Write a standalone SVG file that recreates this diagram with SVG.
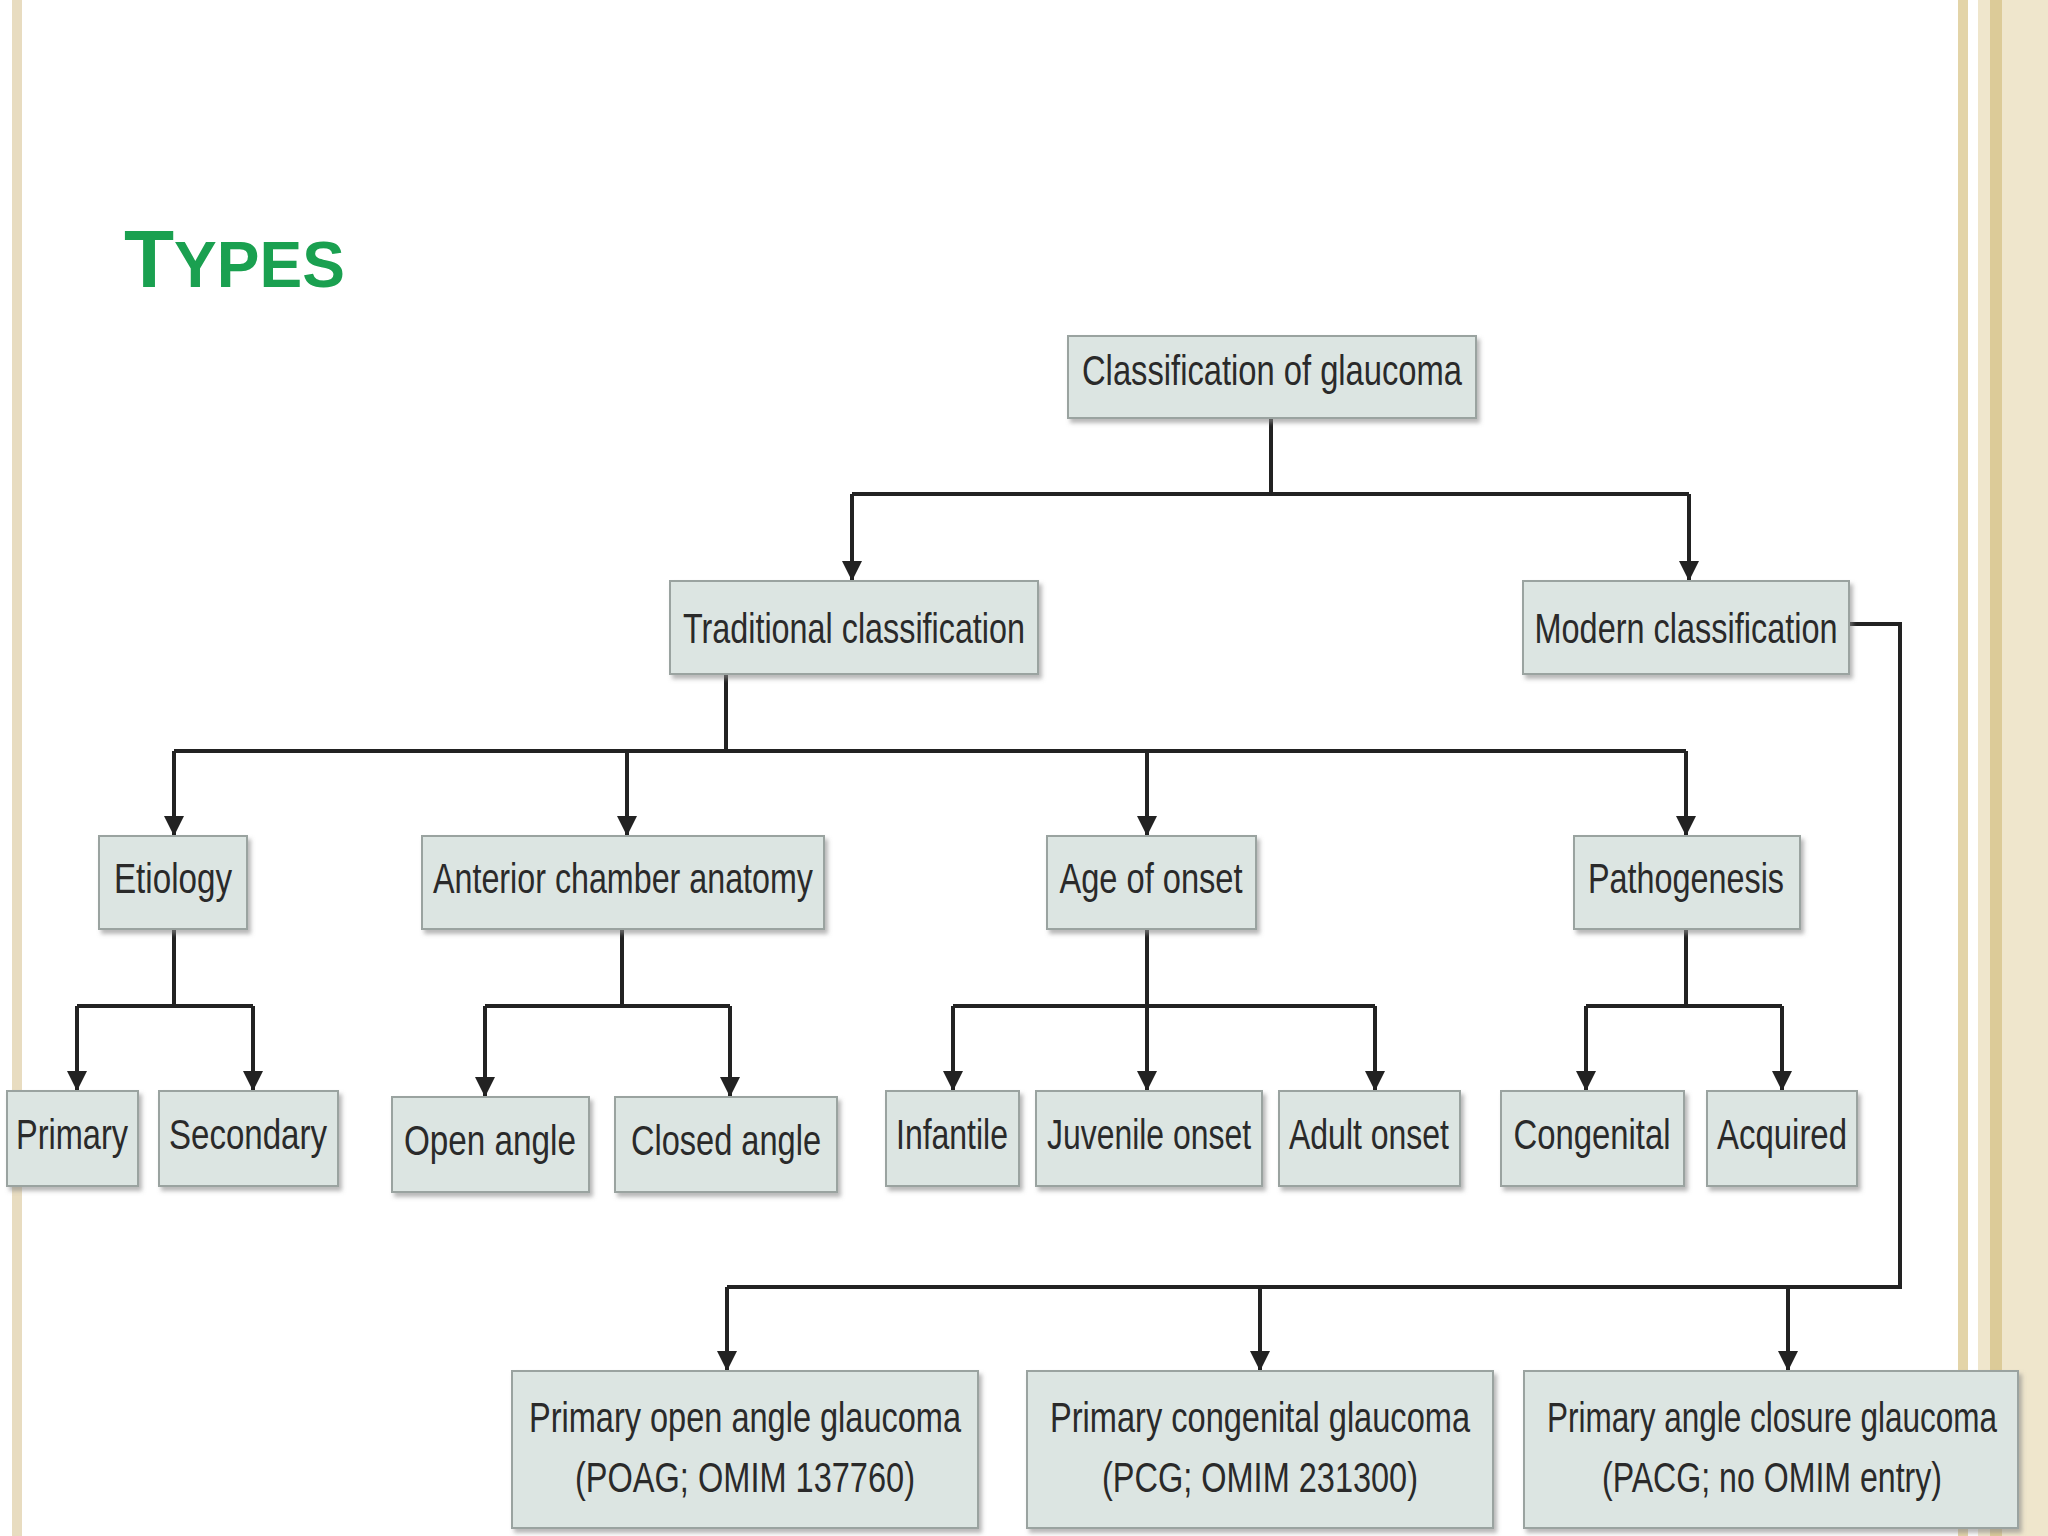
<svg xmlns="http://www.w3.org/2000/svg" width="2048" height="1536" viewBox="0 0 2048 1536">
<defs>
<marker id="ah" viewBox="0 0 10 10" refX="10" refY="5" markerWidth="5" markerHeight="6" orient="auto"><path d="M0,0 L10,5 L0,10 z" fill="#222"/></marker>
<filter id="sh" x="-5%" y="-5%" width="115%" height="130%"><feDropShadow dx="3" dy="4" stdDeviation="2" flood-color="#888" flood-opacity="0.6"/></filter>
</defs>
<style>
.b{fill:#dce5e2;stroke:#9aa3a0;stroke-width:2;filter:url(#sh)}
.t{font-family:"Liberation Sans",Arial,sans-serif;font-size:42px;fill:#2a2a2a;text-anchor:middle}
.c{fill:none;stroke:#222;stroke-width:4}
</style>
<rect width="2048" height="1536" fill="#fff"/>
<rect x="12" y="0" width="10" height="1536" fill="#e8dcc0"/>
<rect x="1958" y="0" width="10" height="1536" fill="#e3d4a8"/>
<rect x="1978" y="0" width="70" height="1536" fill="#efe6cc"/>
<rect x="1990" y="0" width="12" height="1536" fill="#dccb98"/>
<text x="124" y="287" font-family="Liberation Sans,Arial,sans-serif" font-weight="bold" fill="#1aa050"><tspan font-size="82">T</tspan><tspan font-size="64">YPES</tspan></text>
<g id="connectors">
<path class="c" d="M1271,418 V494 M852,494 H1689"/>
<path class="c" d="M852,494 V581" marker-end="url(#ah)"/><path class="c" d="M1689,494 V581" marker-end="url(#ah)"/>
<path class="c" d="M726,674 V751 M174,751 H1686"/>
<path class="c" d="M174,751 V836" marker-end="url(#ah)"/><path class="c" d="M627,751 V836" marker-end="url(#ah)"/><path class="c" d="M1147,751 V836" marker-end="url(#ah)"/><path class="c" d="M1686,751 V836" marker-end="url(#ah)"/>
<path class="c" d="M1849,624 H1900 V1287 H727"/>
<path class="c" d="M727,1287 V1371" marker-end="url(#ah)"/><path class="c" d="M1260,1287 V1371" marker-end="url(#ah)"/><path class="c" d="M1788,1287 V1371" marker-end="url(#ah)"/>
<path class="c" d="M174,929 V1006 M77,1006 H253"/>
<path class="c" d="M77,1006 V1091" marker-end="url(#ah)"/><path class="c" d="M253,1006 V1091" marker-end="url(#ah)"/>
<path class="c" d="M622,929 V1006 M485,1006 H730"/>
<path class="c" d="M485,1006 V1097" marker-end="url(#ah)"/><path class="c" d="M730,1006 V1097" marker-end="url(#ah)"/>
<path class="c" d="M1147,929 V1091" marker-end="url(#ah)"/>
<path class="c" d="M953,1006 H1375"/>
<path class="c" d="M953,1006 V1091" marker-end="url(#ah)"/><path class="c" d="M1375,1006 V1091" marker-end="url(#ah)"/>
<path class="c" d="M1686,929 V1006 M1586,1006 H1782"/>
<path class="c" d="M1586,1006 V1091" marker-end="url(#ah)"/><path class="c" d="M1782,1006 V1091" marker-end="url(#ah)"/>
</g>
<g id="root"><rect class="b" x="1068" y="336" width="408" height="82"/><text class="t" x="1272" y="385" textLength="380" lengthAdjust="spacingAndGlyphs">Classification of glaucoma</text></g>
<g id="trad"><rect class="b" x="670" y="581" width="368" height="93"/><text class="t" x="854" y="643" textLength="342" lengthAdjust="spacingAndGlyphs">Traditional classification</text></g>
<g id="modern"><rect class="b" x="1523" y="581" width="326" height="93"/><text class="t" x="1686" y="643" textLength="303" lengthAdjust="spacingAndGlyphs">Modern classification</text></g>
<g id="etiology"><rect class="b" x="99" y="836" width="148" height="93"/><text class="t" x="173" y="893" textLength="118" lengthAdjust="spacingAndGlyphs">Etiology</text></g>
<g id="anterior"><rect class="b" x="422" y="836" width="402" height="93"/><text class="t" x="623" y="893" textLength="380" lengthAdjust="spacingAndGlyphs">Anterior chamber anatomy</text></g>
<g id="age"><rect class="b" x="1047" y="836" width="209" height="93"/><text class="t" x="1151" y="893" textLength="183" lengthAdjust="spacingAndGlyphs">Age of onset</text></g>
<g id="patho"><rect class="b" x="1574" y="836" width="226" height="93"/><text class="t" x="1686" y="893" textLength="196" lengthAdjust="spacingAndGlyphs">Pathogenesis</text></g>
<g id="primary"><rect class="b" x="7" y="1091" width="131" height="95"/><text class="t" x="72" y="1149" textLength="112" lengthAdjust="spacingAndGlyphs">Primary</text></g>
<g id="secondary"><rect class="b" x="159" y="1091" width="179" height="95"/><text class="t" x="248" y="1149" textLength="158" lengthAdjust="spacingAndGlyphs">Secondary</text></g>
<g id="open"><rect class="b" x="392" y="1097" width="197" height="95"/><text class="t" x="490" y="1155" textLength="172" lengthAdjust="spacingAndGlyphs">Open angle</text></g>
<g id="closed"><rect class="b" x="615" y="1097" width="222" height="95"/><text class="t" x="726" y="1155" textLength="190" lengthAdjust="spacingAndGlyphs">Closed angle</text></g>
<g id="infantile"><rect class="b" x="886" y="1091" width="133" height="95"/><text class="t" x="952" y="1149" textLength="112" lengthAdjust="spacingAndGlyphs">Infantile</text></g>
<g id="juvenile"><rect class="b" x="1036" y="1091" width="226" height="95"/><text class="t" x="1149" y="1149" textLength="204" lengthAdjust="spacingAndGlyphs">Juvenile onset</text></g>
<g id="adult"><rect class="b" x="1279" y="1091" width="181" height="95"/><text class="t" x="1369" y="1149" textLength="160" lengthAdjust="spacingAndGlyphs">Adult onset</text></g>
<g id="congenital"><rect class="b" x="1501" y="1091" width="183" height="95"/><text class="t" x="1592" y="1149" textLength="157" lengthAdjust="spacingAndGlyphs">Congenital</text></g>
<g id="acquired"><rect class="b" x="1707" y="1091" width="150" height="95"/><text class="t" x="1782" y="1149" textLength="130" lengthAdjust="spacingAndGlyphs">Acquired</text></g>
<g id="poag"><rect class="b" x="512" y="1371" width="466" height="157"/><text class="t" x="745" y="1432" textLength="432" lengthAdjust="spacingAndGlyphs">Primary open angle glaucoma</text><text class="t" x="745" y="1492" textLength="340" lengthAdjust="spacingAndGlyphs">(POAG; OMIM 137760)</text></g>
<g id="pcg"><rect class="b" x="1027" y="1371" width="466" height="157"/><text class="t" x="1260" y="1432" textLength="420" lengthAdjust="spacingAndGlyphs">Primary congenital glaucoma</text><text class="t" x="1260" y="1492" textLength="316" lengthAdjust="spacingAndGlyphs">(PCG; OMIM 231300)</text></g>
<g id="pacg"><rect class="b" x="1524" y="1371" width="494" height="157"/><text class="t" x="1772" y="1432" textLength="450" lengthAdjust="spacingAndGlyphs">Primary angle closure glaucoma</text><text class="t" x="1772" y="1492" textLength="340" lengthAdjust="spacingAndGlyphs">(PACG; no OMIM entry)</text></g>
</svg>
